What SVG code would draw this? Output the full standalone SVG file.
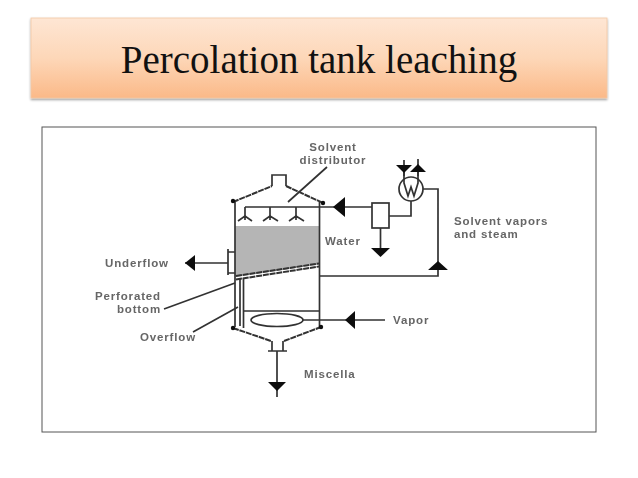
<svg xmlns="http://www.w3.org/2000/svg" width="638" height="478" viewBox="0 0 638 478">
<style>
.l{fill:none;stroke:#333;stroke-width:1.7}
.a{fill:#111;stroke:none}
.t{font-family:"Liberation Sans",Arial,sans-serif;font-size:11.5px;letter-spacing:0.85px;font-weight:bold;fill:#666}
.d{fill:none;stroke:#333;stroke-width:2;stroke-dasharray:6 0.8}
</style>
<defs>
<linearGradient id="g" x1="0" y1="0" x2="0" y2="1"><stop offset="0" stop-color="#fee6d4"/><stop offset="0.5" stop-color="#fdd7b8"/><stop offset="1" stop-color="#fbb988"/></linearGradient>
<filter id="s" x="-5%" y="-10%" width="110%" height="125%"><feDropShadow dx="0" dy="1.5" stdDeviation="1.2" flood-color="#000" flood-opacity="0.4"/></filter>
<filter id="b" x="0" y="0" width="100%" height="100%"><feGaussianBlur stdDeviation="0.5"/></filter>
</defs>
<rect width="638" height="478" fill="#fff"/>
<g id="title">
<rect x="31" y="18" width="576" height="80" fill="url(#g)" stroke="#f3c9a5" stroke-width="0.8" filter="url(#s)"/>
<text x="319" y="73" text-anchor="middle" font-family="'Liberation Serif','Times New Roman',serif" font-size="39" fill="#111">Percolation tank leaching</text>
</g>
<rect id="frame" x="42" y="127" width="554" height="305" fill="#fff" stroke="#555" stroke-width="1"/>
<g filter="url(#b)">
<g id="tank">
<path d="M235 226H319V264.500L235 277Z" fill="#b5b5b5"/>
<path class="l" d="M235 202V327M319.500 202V327"/>
<path class="d" d="M233 202L272 186M286 186L323 203M233 328L271 341M284 341L321 327"/>
<path class="l" d="M272 186V175H286V186M272 341V351M283 341V351M268 351H287"/>
<circle cx="233" cy="201" r="2.200" class="a"/><circle cx="323" cy="203" r="2.200" class="a"/><circle cx="233" cy="328" r="2.200" class="a"/><circle cx="321" cy="327" r="2.200" class="a"/>
</g>
<g id="distributor">
<path class="l" d="M245 207H319M245 207V216M270 207V216M296 207V216"/>
<path class="l" d="M238 221L245 216L252 221M245 216V220M263 221L270 216L278 221M270 216V220M289 221L296 216L304 221M296 216V220"/>
</g>
<g id="bottom">
<path class="d" d="M236 276L319 263.500M236 279.500L319 266.500"/>
<path class="l" d="M240 279V326M243.500 278V328M243.500 311H319"/>
</g>
<g id="underflow-flange">
<path class="l" d="M228 249V275M228 252H235M228 273H235"/>
</g>
<g id="coil"><ellipse cx="277" cy="320" rx="26" ry="6.500" class="l"/></g>
<g id="condenser">
<circle cx="411" cy="189" r="12" class="l"/>
<path class="l" d="M404 170V183L408 196L411 187L414 196L418 183V168"/>
</g>
<g id="separator"><rect x="372" y="203" width="17" height="25" class="l" fill="#fff"/></g>
<g id="connectors">
<path class="l" d="M319 207H372M380.500 228V252M389 216H411V201M423 189H438V276H319.500M303 320H385M277 351V397M228 263H185M164 309L235 283M193 332L238 307M288 202L327 167M404 160V176M418 159V176"/>
<path class="a" d="M333 207L345 197V217ZM371 248H390L380.500 257ZM428 270H448L438 261ZM345 320L355 311V329ZM268 382H286L277 391ZM185 263L195 255V271ZM396 165H412L404 173ZM410 172H426L418 164Z"/>
</g>
<g id="labels">
<text class="t" x="333" y="150.500" text-anchor="middle">Solvent</text>
<text class="t" x="333" y="164" text-anchor="middle">distributor</text>
<text class="t" x="325" y="245">Water</text>
<text class="t" x="454" y="224.500">Solvent vapors</text>
<text class="t" x="454" y="238">and steam</text>
<text class="t" x="105" y="267">Underflow</text>
<text class="t" x="161" y="299.500" text-anchor="end">Perforated</text>
<text class="t" x="161" y="313" text-anchor="end">bottom</text>
<text class="t" x="140" y="341">Overflow</text>
<text class="t" x="393" y="324">Vapor</text>
<text class="t" x="304" y="378">Miscella</text>
</g>
</g>
</svg>
